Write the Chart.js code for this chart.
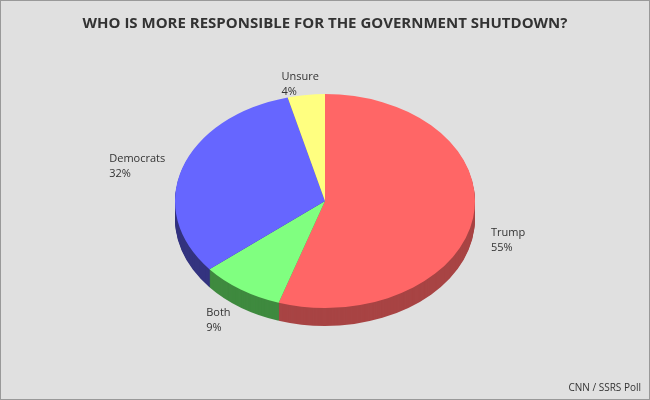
<!DOCTYPE html>
<html><head><meta charset="utf-8">
<script src="https://cdn.jsdelivr.net/npm/chart.js@4"></script>
<style>
html,body{margin:0;padding:0;background:#e0e0e0}
#wrap{width:648px;height:398px;border:1px solid #999;position:relative}
</style></head>
<body><div id="wrap"><canvas id="c" width="648" height="398"></canvas></div>
<script>
const labels = ["Trump","Both","Democrats","Unsure"];
const values = [55,9,32,4];
const colors = ["#ff6666","#80ff80","#6666ff","#ffff80"];
const sideColors = ["#a84444","#3f8a3f","#33337f","#9a9a40"];
const title = "WHO IS MORE RESPONSIBLE FOR THE GOVERNMENT SHUTDOWN?";
const source = "CNN / SSRS Poll";

const squash = 0.713, depth = 18;

const tilt = {
  id:"tilt",
  beforeDatasetsDraw(chart){
    const ctx = chart.ctx, a = chart.chartArea;
    const cx = (a.left+a.right)/2, cy = (a.top+a.bottom)/2;
    ctx.save();
    ctx.translate(cx, cy); ctx.scale(1, squash); ctx.translate(-cx, -cy);
    const arcs = chart.getDatasetMeta(0).data;
    for(let d = depth; d > 0; d--){
      arcs.forEach((el,i)=>{
        ctx.beginPath();
        ctx.moveTo(el.x, el.y + d/squash);
        ctx.arc(el.x, el.y + d/squash, el.outerRadius, el.startAngle, el.endAngle);
        ctx.closePath();
        ctx.fillStyle = sideColors[i];
        ctx.fill();
      });
    }
  },
  afterDatasetsDraw(chart){
    chart.ctx.restore();
  },
  afterDraw(chart){
    const ctx = chart.ctx, a = chart.chartArea;
    const cx = (a.left+a.right)/2, cy = (a.top+a.bottom)/2;
    ctx.save();
    ctx.fillStyle = "#333";
    ctx.font = "bold 15px 'Open Sans', sans-serif";
    ctx.textAlign = "center";
    ctx.fillText(title, chart.width/2, 27);
    ctx.font = "11px 'Open Sans', sans-serif";
    ctx.textAlign = "left";
    const arcs = chart.getDatasetMeta(0).data;
    arcs.forEach((el,i)=>{
      const m = (el.startAngle+el.endAngle)/2;
      const r = el.outerRadius*1.12;
      let x = cx + Math.cos(m)*r;
      let y = cy + Math.sin(m)*r*squash;
      if (Math.sin(m) > 0) y += depth;
      const w = Math.max(ctx.measureText(labels[i]).width, ctx.measureText(values[i]+"%").width);
      if (Math.cos(m) < -0.3) x -= w;
      else if (Math.cos(m) < 0) x -= w * 0.6;
      ctx.fillText(labels[i], x, y - 2);
      ctx.fillText(values[i] + "%", x, y + 13);
    });
    ctx.textAlign = "right";
    ctx.font = "10px 'Open Sans', sans-serif";
    ctx.fillText(source, chart.width - 8, chart.height - 8);
    ctx.restore();
  }
};

new Chart(document.getElementById("c"),{
  type:"pie",
  data:{ labels, datasets:[{data: values, backgroundColor: colors, borderWidth: 0}] },
  options:{
    responsive:false, animation:false,
    layout:{padding:{top:50,bottom:48,left:174,right:174}},
    plugins:{legend:{display:false}, tooltip:{enabled:false}}
  },
  plugins:[tilt]
});
</script></body></html>
